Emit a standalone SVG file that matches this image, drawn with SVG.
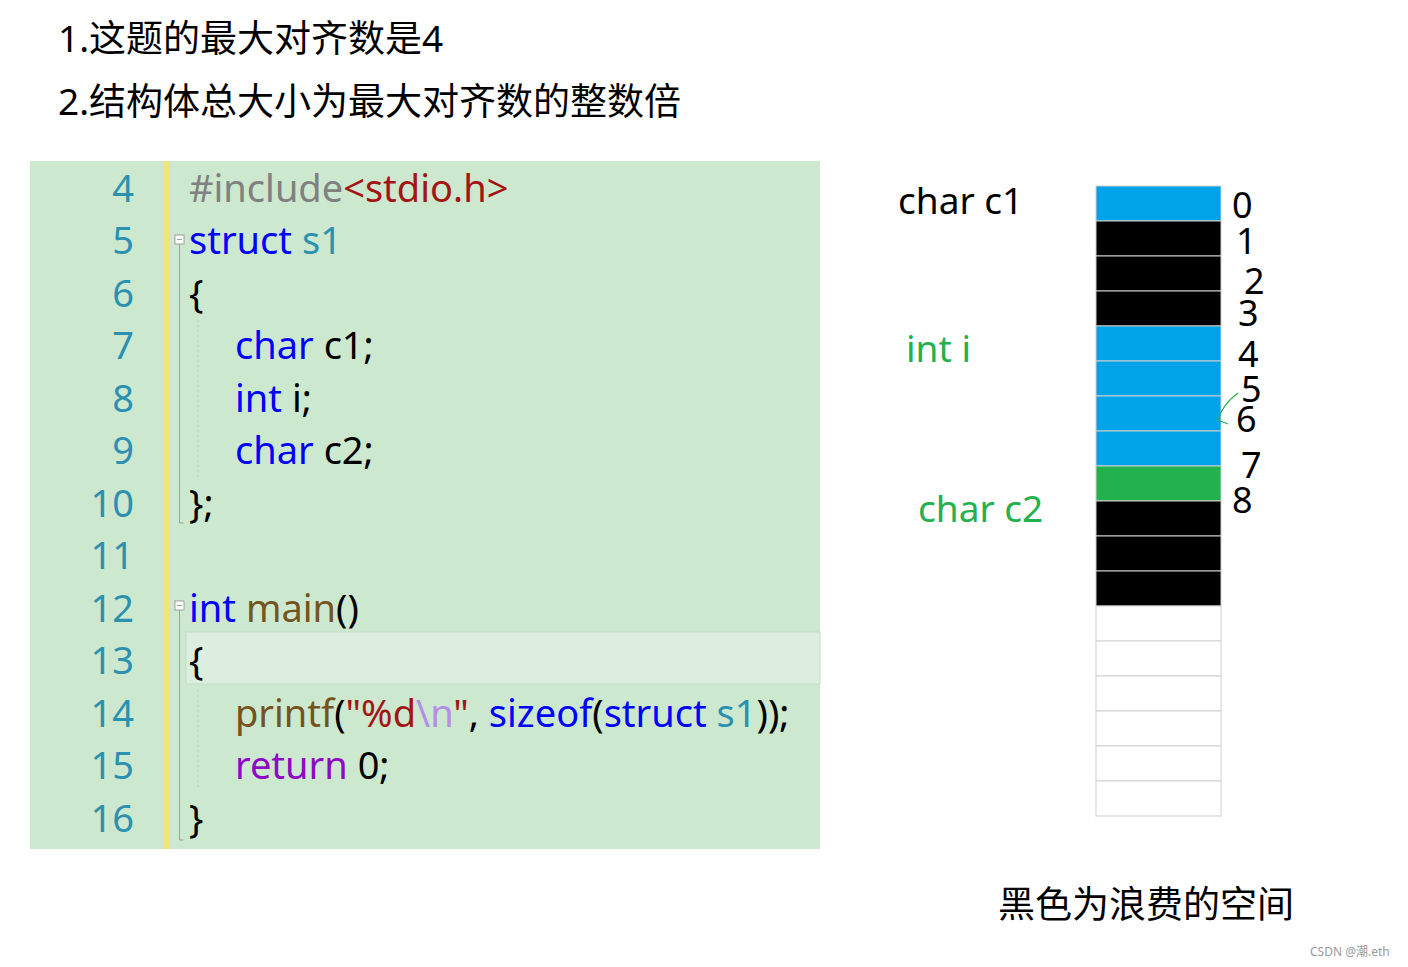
<svg xmlns="http://www.w3.org/2000/svg" width="1408" height="967" viewBox="0 0 1408 967">
<style>
text{font-family:"Noto Sans","Noto Sans CJK SC",sans-serif}
.t{font-size:37px;fill:#000}
.ln{font-size:38px;fill:#2b91af;text-anchor:end}
.c{font-size:38px;fill:#000}
.kw{fill:#0000ff}.ty{fill:#2b91af}.fn{fill:#74531f}.st{fill:#a31515}.pp{fill:#808080}.es{fill:#b58ce6}.rt{fill:#8f08c4}
.n{font-size:36px;fill:#000}
.blue{fill:#00a2e8}.blk{fill:#000}.grn{fill:#22b14c}.wht{fill:#fff}
</style>
<rect width="1408" height="967" fill="#fff"/>
<text class="t" x="58" y="52">1.这题的最大对齐数是4</text>
<text class="t" x="58" y="115">2.结构体总大小为最大对齐数的整数倍</text>
<g id="code">
<rect x="30" y="161" width="790" height="688" fill="#cce8cf"/>
<rect x="163" y="161" width="7" height="688" fill="#ede67a"/>
<rect x="186" y="632" width="634" height="52" fill="#dcefdf" stroke="#c4dcc8"/>
<g stroke="#a0a0a0" fill="none" stroke-width="1">
<rect x="175" y="235" width="9" height="9" fill="#fff"/><path d="M177 239.5h5M179.5 244V523h4"/>
<rect x="175" y="601" width="9" height="9" fill="#fff"/><path d="M177 605.5h5M179.5 610V840h4"/>
</g>
<g stroke="#b8d2bc" stroke-dasharray="2 3"><path d="M198 320V480M198 690V790"/></g>
<text class="ln" x="134" y="202">4</text><text class="ln" x="134" y="254">5</text><text class="ln" x="134" y="307">6</text><text class="ln" x="134" y="359">7</text><text class="ln" x="134" y="412">8</text><text class="ln" x="134" y="464">9</text><text class="ln" x="134" y="517">10</text><text class="ln" x="134" y="569">11</text><text class="ln" x="134" y="622">12</text><text class="ln" x="134" y="674">13</text><text class="ln" x="134" y="727">14</text><text class="ln" x="134" y="779">15</text><text class="ln" x="134" y="832">16</text>
<text class="c" x="189" y="202"><tspan class="pp">#include</tspan><tspan class="st">&lt;stdio.h&gt;</tspan></text>
<text class="c" x="189" y="254"><tspan class="kw">struct</tspan> <tspan class="ty">s1</tspan></text>
<text class="c" x="189" y="307">{</text>
<text class="c" x="235" y="359"><tspan class="kw">char</tspan> c1;</text>
<text class="c" x="235" y="412"><tspan class="kw">int</tspan> i;</text>
<text class="c" x="235" y="464"><tspan class="kw">char</tspan> c2;</text>
<text class="c" x="189" y="517">};</text>
<text class="c" x="189" y="622"><tspan class="kw">int</tspan> <tspan class="fn">main</tspan>()</text>
<text class="c" x="189" y="674">{</text>
<text class="c" x="235" y="727"><tspan class="fn">printf</tspan>(<tspan class="st">"%d</tspan><tspan class="es">\n</tspan><tspan class="st">"</tspan>, <tspan class="kw">sizeof</tspan>(<tspan class="kw">struct</tspan> <tspan class="ty">s1</tspan>));</text>
<text class="c" x="235" y="779"><tspan class="rt">return</tspan> 0;</text>
<text class="c" x="189" y="832">}</text>
</g>
<g id="memory" stroke="#d0d0d0" stroke-width="1">
<rect class="blue" x="1096" y="186" width="125" height="35"/>
<rect class="blk" x="1096" y="221" width="125" height="35"/>
<rect class="blk" x="1096" y="256" width="125" height="35"/>
<rect class="blk" x="1096" y="291" width="125" height="35"/>
<rect class="blue" x="1096" y="326" width="125" height="35"/>
<rect class="blue" x="1096" y="361" width="125" height="35"/>
<rect class="blue" x="1096" y="396" width="125" height="35"/>
<rect class="blue" x="1096" y="431" width="125" height="35"/>
<rect class="grn" x="1096" y="466" width="125" height="35"/>
<rect class="blk" x="1096" y="501" width="125" height="35"/>
<rect class="blk" x="1096" y="536" width="125" height="35"/>
<rect class="blk" x="1096" y="571" width="125" height="35"/>
<rect class="wht" x="1096" y="606" width="125" height="35"/>
<rect class="wht" x="1096" y="641" width="125" height="35"/>
<rect class="wht" x="1096" y="676" width="125" height="35"/>
<rect class="wht" x="1096" y="711" width="125" height="35"/>
<rect class="wht" x="1096" y="746" width="125" height="35"/>
<rect class="wht" x="1096" y="781" width="125" height="35"/>
</g>
<path d="M1238 393Q1222 405 1218 420L1228 424" fill="none" stroke="#22b14c" stroke-width="1.2"/>
<g id="nums">
<text class="n" x="1232" y="218">0</text><text class="n" x="1236" y="254">1</text><text class="n" x="1244" y="294">2</text><text class="n" x="1238" y="326">3</text><text class="n" x="1238" y="367">4</text><text class="n" x="1241" y="402">5</text><text class="n" x="1236" y="432">6</text><text class="n" x="1241" y="478">7</text><text class="n" x="1232" y="513">8</text>
</g>
<text class="t" x="898" y="214">char c1</text>
<text class="t" x="906" y="362" fill="#22b14c" style="fill:#22b14c">int i</text>
<text class="t" x="918" y="522" style="fill:#22b14c">char c2</text>
<text class="t" x="998" y="918">黑色为浪费的空间</text>
<text x="1310" y="956" font-size="12" fill="#999">CSDN @潮.eth</text>
</svg>
